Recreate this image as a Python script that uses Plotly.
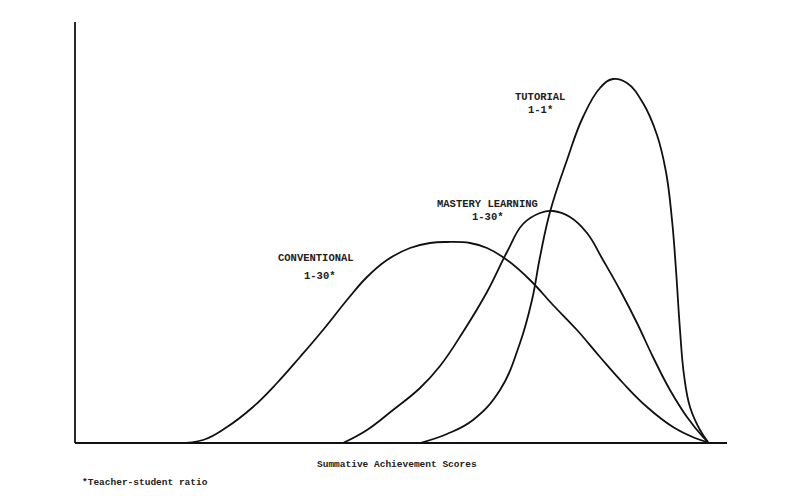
import plotly.graph_objects as go

BASE = 443  # baseline pixel row used to express heights

# Curve traces (score, height above baseline)
conv_x = [177, 203, 227, 253, 277, 300, 323, 347, 367, 387, 410, 430, 447, 470, 487, 507, 530, 553, 577, 600, 623, 647, 673, 695, 707]
conv_py = [443, 440, 427, 407, 383, 357, 330, 300, 277, 260, 248, 243, 242, 243, 248, 260, 280, 305, 330, 357, 383, 407, 427, 438, 442]
mast_x = [343, 367, 393, 420, 440, 463, 487, 507, 523, 540, 553, 570, 587, 603, 620, 637, 653, 670, 687, 703, 708]
mast_py = [443, 430, 410, 388, 366, 332, 292, 252, 224, 213, 211, 217, 233, 260, 290, 323, 357, 390, 417, 437, 442]
tut_x = [420, 447, 473, 500, 520, 532, 540, 550, 567, 583, 600, 613, 627, 643, 657, 666, 672, 676, 680, 684, 690, 700, 708]
tut_py = [443, 434, 420, 390, 343, 300, 257, 212, 160, 117, 88, 79, 83, 103, 135, 172, 220, 270, 330, 375, 407, 430, 442]

conv_y = [BASE - v for v in conv_py]
mast_y = [BASE - v for v in mast_py]
tut_y = [BASE - v for v in tut_py]

FONT = "Liberation Mono"

fig = go.Figure()
for xs, ys in [(conv_x, conv_y), (mast_x, mast_y), (tut_x, tut_y)]:
    fig.add_trace(go.Scatter(x=xs, y=ys, mode="lines", line=dict(color="#111", width=1.8, shape="spline", smoothing=1.2),
                             hoverinfo="skip", showlegend=False))

# axes
fig.add_shape(type="line", x0=75, y0=0, x1=727, y1=0, line=dict(color="#111", width=1.8))
fig.add_shape(type="line", x0=75, y0=0, x1=75, y1=BASE - 22, line=dict(color="#111", width=1.8))

labels = [
    ("CONVENTIONAL", 316, 258, 10.5),
    ("1-30*", 320, 276, 10.5),
    ("MASTERY LEARNING", 487, 204, 10.5),
    ("1-30*", 488, 217, 10.5),
    ("TUTORIAL", 540, 97, 10.5),
    ("1-1*", 540, 110, 10.5),
    ("Summative Achievement Scores", 397, 464, 9.5),
]
for t, x, py, s in labels:
    fig.add_annotation(x=x, y=BASE - py, text="<b>" + t + "</b>", showarrow=False, xanchor="center", yanchor="middle",
                       font=dict(family=FONT, size=s, color="#222"))
fig.add_annotation(x=80, y=BASE - 482, text="<b>*Teacher-student ratio</b>", showarrow=False, xanchor="left", yanchor="middle",
                   font=dict(family=FONT, size=9.5, color="#222"))

fig.update_layout(width=800, height=496, margin=dict(l=0, r=0, t=0, b=0),
                  paper_bgcolor="white", plot_bgcolor="white",
                  xaxis=dict(range=[0, 800], visible=False),
                  yaxis=dict(range=[BASE - 496, BASE], visible=False))
fig.write_html("out.html")
